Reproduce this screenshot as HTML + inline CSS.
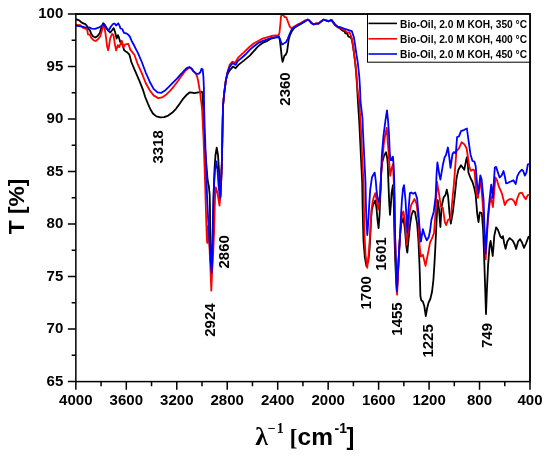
<!DOCTYPE html>
<html><head><meta charset="utf-8"><title>FTIR Bio-Oil</title>
<style>
html,body{margin:0;padding:0;background:#fff;}
body{width:550px;height:458px;overflow:hidden;}
svg{display:block;}
text{font-family:"Liberation Sans", Arial, Helvetica, sans-serif;font-weight:bold;fill:#000;}
</style></head><body>
<svg width="550" height="458" viewBox="0 0 550 458">
<rect x="0" y="0" width="550" height="458" fill="#fff"/>
<defs><clipPath id="pa"><rect x="75.85" y="13.299999999999999" width="454.15" height="368.3"/></clipPath></defs>

<g clip-path="url(#pa)" fill="none" stroke-width="1.8" stroke-linejoin="round" stroke-linecap="round">
<polyline stroke="#000" points="76.2,19.2 76.6,19.4 79.2,20.3 81.0,22.0 82.7,23.2 85.4,24.2 87.1,26.0 88.4,29.0 89.7,29.9 91.5,34.3 93.2,36.5 95.4,37.5 97.6,36.0 99.8,33.0 101.5,27.3 103.3,23.2 105.0,25.1 106.8,28.2 108.5,30.8 110.3,32.5 111.7,30.7 113.7,28.1 115.1,32.0 116.6,38.6 117.9,35.1 118.7,36.8 120.0,41.2 121.4,43.8 122.7,45.1 124.0,49.9 125.3,51.2 127.5,52.6 129.2,54.3 130.0,56.8 131.3,62.0 135.2,71.2 139.2,80.4 142.8,89.3 145.2,97.0 147.9,103.6 150.5,109.5 153.1,113.8 156.4,116.4 160.3,117.3 164.2,117.1 168.2,115.6 172.1,112.8 176.0,108.8 179.3,104.2 182.8,99.2 186.2,95.3 189.8,92.3 192.2,92.6 194.4,93.2 196.9,92.7 199.7,92.1 201.8,91.6 202.5,93.5 202.8,100.0 203.1,110.0 203.8,130.0 205.2,150.0 206.8,170.0 207.6,180.0 208.8,186.0 209.7,195.0 210.0,210.0 210.2,240.0 210.6,262.0 211.2,268.0 211.9,262.0 212.4,240.0 212.9,220.0 213.4,205.0 214.1,180.0 214.6,168.0 215.5,155.0 216.7,147.6 218.0,155.0 219.0,170.6 220.0,187.0 220.6,197.0 221.0,185.0 221.8,165.0 222.3,140.0 222.7,120.0 223.1,105.0 224.2,93.2 225.9,80.1 227.6,74.0 229.5,70.5 230.7,69.3 232.9,66.6 235.6,68.2 238.4,64.9 243.8,60.6 249.8,55.6 254.3,50.6 258.1,46.4 262.5,43.0 266.8,41.2 271.2,38.6 275.6,37.3 279.1,36.8 280.0,41.3 280.9,49.2 281.8,57.9 282.6,61.8 283.5,58.8 284.4,55.7 285.7,54.8 287.0,51.8 287.9,45.7 288.7,39.6 290.0,35.2 291.8,31.2 294.2,28.0 297.7,25.6 301.2,23.7 304.7,21.5 307.7,19.8 309.5,20.8 311.4,23.1 313.6,24.5 315.9,23.7 318.6,23.6 320.9,21.8 323.6,19.8 325.9,20.5 328.6,21.5 331.4,20.2 333.2,22.6 335.0,25.0 337.7,27.3 340.0,28.5 342.5,30.6 344.3,31.2 345.4,33.3 347.3,33.7 348.4,36.6 350.6,37.2 351.6,39.0 352.5,43.0 353.8,51.5 355.1,62.0 356.1,72.5 357.0,85.0 357.9,101.2 359.2,120.9 359.9,135.0 360.9,156.2 362.2,182.5 362.5,200.0 362.8,216.0 363.5,241.0 364.8,257.0 366.4,266.0 368.3,261.0 369.5,250.0 370.3,235.0 371.0,220.0 371.8,210.0 373.0,205.0 375.3,200.5 376.5,208.0 377.5,220.0 378.6,228.1 379.6,214.0 380.5,190.0 381.2,172.0 382.3,162.0 383.9,156.2 386.0,152.2 387.2,158.0 387.8,165.0 388.3,180.0 389.2,202.0 390.0,214.8 391.0,203.0 391.6,193.1 392.9,185.2 393.7,200.0 394.3,230.0 395.2,260.0 396.2,282.0 396.9,292.0 397.7,280.0 398.7,258.0 399.8,238.0 401.2,224.0 403.4,218.0 405.0,230.0 406.3,246.0 407.3,252.7 408.5,240.0 410.0,225.0 411.5,215.0 413.2,210.8 415.0,212.0 417.1,223.3 418.4,240.0 419.4,262.0 420.0,280.0 420.4,296.0 421.2,300.2 422.8,301.5 424.3,306.0 425.8,316.0 427.2,308.0 428.6,302.5 430.3,299.0 432.0,292.0 433.4,280.0 434.5,263.0 435.4,246.0 436.0,233.1 436.7,218.0 437.7,200.1 439.0,209.3 440.4,227.0 441.6,206.6 443.6,197.5 445.5,194.9 446.8,189.6 448.1,196.2 449.5,213.2 450.8,223.7 452.7,213.2 454.7,196.2 456.6,177.9 458.4,169.7 461.0,165.2 464.3,169.7 466.6,158.0 467.2,157.0 468.5,172.8 470.5,178.0 472.5,182.0 474.4,188.5 475.7,195.1 477.2,213.6 478.5,222.1 479.8,212.3 481.8,213.0 483.1,229.3 483.9,250.0 484.9,280.0 486.0,314.0 486.9,290.0 488.1,265.0 489.6,246.0 490.6,241.0 491.6,248.0 492.7,256.0 493.6,245.0 494.3,235.9 496.1,227.3 497.9,229.7 500.4,236.6 501.9,238.1 502.9,236.1 504.3,243.5 505.6,248.9 507.3,241.5 509.7,238.1 512.7,240.6 514.7,244.5 516.1,248.9 518.1,241.5 520.1,239.1 522.0,242.5 524.0,247.9 526.0,243.5 528.4,237.1 530.0,236.0"/>
<polyline stroke="#f00" points="76.2,24.9 76.6,24.9 80.1,25.1 82.7,27.7 85.4,28.6 87.1,29.5 88.0,34.3 89.7,34.7 91.5,38.2 93.7,40.4 95.8,41.0 98.0,39.1 100.2,36.5 102.0,30.3 103.3,26.0 104.6,27.7 105.9,36.5 107.2,46.9 108.1,50.4 108.9,46.9 110.2,38.2 112.2,33.8 113.5,35.1 114.8,43.8 116.1,50.4 117.9,45.1 119.2,47.3 120.5,43.8 121.8,40.8 123.5,47.3 125.3,44.3 128.3,43.8 130.3,49.6 132.7,52.6 134.5,55.0 137.9,64.7 141.8,73.2 145.7,83.0 149.7,90.2 153.6,95.4 158.2,98.1 162.1,97.4 166.0,94.8 170.0,90.9 173.9,86.3 177.8,81.2 180.0,78.0 182.2,75.0 185.3,70.8 188.7,68.1 189.5,67.5 191.5,68.6 193.6,71.4 195.6,73.5 197.0,76.0 198.0,80.1 199.1,86.7 200.2,93.2 200.8,99.0 201.5,104.0 202.1,110.0 203.6,140.0 205.0,180.0 205.6,200.0 206.2,220.0 206.8,238.0 207.2,243.0 207.8,235.0 208.3,226.0 208.8,235.0 209.6,250.0 210.5,270.0 211.3,290.6 212.1,272.0 213.2,252.0 214.1,232.0 214.6,212.0 215.1,196.0 215.9,187.4 217.5,193.0 219.5,205.7 220.5,195.0 221.0,185.0 221.8,165.0 222.3,140.0 222.7,120.0 223.1,105.0 224.2,93.2 225.9,80.1 227.4,72.4 229.6,64.9 232.4,61.7 235.1,62.8 238.4,57.3 243.8,52.4 249.4,47.0 254.0,43.3 258.6,40.8 262.5,38.6 266.8,37.3 271.2,36.0 275.6,35.3 278.6,35.4 279.5,32.5 280.4,23.7 281.0,16.5 281.6,15.0 283.2,15.0 284.6,17.0 286.3,17.4 288.1,22.2 289.8,26.6 291.6,28.5 294.2,26.6 297.7,24.4 301.2,22.7 304.7,20.5 307.7,19.5 309.5,20.6 311.4,22.9 313.6,24.3 315.9,23.5 318.6,23.4 320.9,21.5 323.6,19.5 325.9,20.2 328.6,21.1 331.4,19.8 333.2,22.2 335.0,24.6 337.7,26.8 340.0,27.9 343.5,29.6 345.2,30.6 346.2,32.1 349.5,32.5 350.6,34.8 351.8,38.4 353.1,46.2 354.4,56.7 355.7,65.9 356.7,78.0 357.6,90.0 359.2,101.2 360.5,120.9 361.0,130.0 362.2,156.2 363.5,182.5 364.0,210.0 364.5,235.0 365.6,255.0 367.2,267.8 368.5,257.0 369.6,242.0 370.6,225.0 371.5,210.0 372.6,202.0 373.8,197.0 375.3,193.1 377.0,202.0 378.3,209.7 379.5,200.0 380.5,185.0 381.5,170.0 382.5,158.0 383.9,143.1 385.0,136.0 386.8,127.8 387.6,140.0 388.4,150.0 388.9,157.5 390.2,175.8 391.5,168.8 392.9,164.5 393.5,175.0 394.5,200.0 395.0,235.0 395.9,263.0 397.1,294.7 397.9,277.0 398.8,258.0 399.9,238.0 401.0,222.0 402.2,214.0 403.4,211.5 405.0,222.0 406.8,245.0 408.5,225.0 410.0,210.0 411.2,204.9 414.5,199.0 416.5,203.6 418.4,219.3 419.6,246.2 420.9,256.7 422.9,254.8 425.5,265.9 428.1,252.8 430.1,242.3 432.0,238.4 434.0,233.1 435.0,220.0 435.7,209.3 437.0,181.8 439.0,193.6 440.9,206.6 442.9,208.0 444.9,222.4 446.2,225.0 448.1,219.7 450.8,218.4 452.1,202.7 454.0,183.1 456.4,151.4 459.0,148.1 461.6,142.3 464.3,144.2 466.6,148.5 467.9,157.0 469.2,166.2 470.2,169.1 471.1,170.8 473.1,169.5 474.4,170.2 476.4,192.5 477.9,197.9 480.3,179.3 482.0,195.0 483.5,215.0 484.8,240.0 485.7,259.4 486.7,240.0 488.0,220.0 489.5,205.0 490.8,196.0 492.9,207.0 494.0,195.0 495.4,177.4 497.0,180.2 498.9,186.7 501.6,192.6 503.5,199.8 504.8,205.1 506.8,201.1 509.4,199.2 512.0,199.2 514.0,201.1 515.7,205.1 517.3,198.5 519.3,193.3 521.9,192.6 523.9,196.6 525.8,199.2 527.8,195.2 530.0,194.6"/>
<polyline stroke="#00f" points="76.2,25.8 76.6,25.8 81.0,26.4 85.4,27.3 88.0,27.7 89.7,27.5 91.5,28.6 95.0,28.8 98.5,27.7 101.1,26.4 102.8,24.7 104.6,25.5 106.3,28.2 108.5,30.8 110.3,27.5 111.7,25.5 113.5,23.6 114.8,23.7 116.1,25.5 118.3,23.3 119.6,25.9 120.5,28.5 122.2,29.0 124.0,32.9 126.2,33.3 128.3,34.7 129.7,36.4 131.8,41.2 133.9,45.0 135.3,47.8 137.9,52.9 141.8,62.0 145.7,72.5 149.7,81.7 153.6,88.9 157.5,92.4 161.4,92.8 165.4,90.2 169.3,86.3 173.2,82.3 177.2,78.4 180.0,75.2 182.2,73.0 184.4,70.3 186.6,68.1 189.3,67.0 191.5,68.6 193.6,71.4 196.4,73.6 198.6,73.8 200.2,72.5 201.6,68.6 202.7,69.7 203.4,76.8 203.9,88.0 204.0,100.0 204.2,110.0 204.6,125.0 205.2,140.0 205.8,160.0 206.5,180.0 207.2,200.0 208.2,220.0 209.4,240.0 210.6,260.0 211.7,273.0 212.4,260.0 212.7,240.0 213.0,220.0 213.4,200.0 214.0,185.0 215.0,170.0 216.4,161.4 217.5,170.0 218.5,185.0 220.0,198.0 221.0,185.0 221.8,165.0 222.3,140.0 222.7,120.0 223.1,105.0 224.2,93.2 225.9,80.1 227.5,72.6 229.6,67.1 232.4,63.3 234.0,63.8 235.6,64.9 237.8,61.1 241.7,57.8 246.0,54.0 250.0,49.6 254.3,46.0 258.6,42.8 263.0,40.9 267.5,39.3 271.2,37.9 275.6,37.3 279.0,37.0 280.2,39.7 282.0,44.5 283.7,43.6 285.9,42.3 287.7,38.8 289.8,33.6 291.6,29.7 294.2,27.5 297.7,25.3 301.2,23.5 304.7,21.4 307.7,19.6 309.5,20.7 311.4,23.0 313.6,24.4 315.9,23.6 318.6,23.5 320.9,21.6 323.6,19.6 325.9,20.3 328.6,21.2 331.4,19.8 333.2,22.1 335.0,24.4 337.7,26.6 340.0,27.2 343.9,28.5 347.9,29.8 351.8,31.1 353.8,37.0 355.1,44.9 356.4,54.1 357.7,62.0 358.6,70.0 359.3,77.0 360.0,88.0 360.5,101.2 362.5,118.3 362.9,130.0 364.2,156.2 365.5,182.5 365.8,200.0 366.3,218.0 367.3,235.0 368.4,220.0 369.2,205.0 370.2,190.0 371.3,182.0 372.0,177.2 373.2,175.0 374.7,172.6 375.7,180.0 376.5,190.0 377.5,198.0 378.8,201.8 379.8,197.0 380.6,190.0 381.1,175.0 381.8,155.6 383.5,135.5 385.5,120.0 387.0,110.5 388.0,120.0 389.0,134.3 389.8,153.1 390.7,160.1 391.5,160.1 392.9,156.6 393.7,166.2 394.2,180.0 394.6,200.0 395.1,235.0 395.9,261.0 396.8,291.0 397.7,275.0 398.7,258.0 399.8,240.0 401.0,215.0 402.0,199.0 403.0,188.5 404.0,185.2 405.5,200.0 407.3,232.5 408.5,210.0 409.9,193.1 411.2,192.5 413.2,193.8 415.2,192.5 417.1,198.4 418.4,212.8 419.6,228.0 420.9,241.6 422.9,229.2 424.8,235.7 426.8,240.3 428.8,237.0 430.1,230.5 431.4,220.0 433.7,211.9 435.7,196.2 436.5,175.0 437.4,162.5 439.4,175.0 440.4,179.6 442.7,165.8 444.6,157.3 445.9,155.3 447.9,147.5 449.2,156.6 450.5,167.8 452.5,154.0 453.8,152.1 455.8,153.4 457.1,137.0 459.0,136.4 461.0,131.1 464.3,129.8 466.9,128.5 468.8,142.3 470.5,154.4 472.5,161.0 474.4,161.6 475.7,166.2 477.0,183.3 478.4,193.5 480.3,175.4 481.6,179.3 482.6,190.0 483.6,200.0 484.5,230.0 485.5,253.5 486.4,240.0 488.0,215.0 489.5,200.0 491.2,184.6 492.8,198.0 494.8,167.5 496.1,166.9 498.0,172.8 499.6,177.5 501.6,175.6 503.5,171.0 504.8,176.2 506.1,183.4 508.1,182.8 510.7,181.5 513.4,180.2 515.7,184.1 517.3,176.2 519.3,172.3 521.9,169.7 523.2,171.0 524.9,175.6 526.5,172.3 527.8,164.4 530.0,163.8"/>
</g>
<path d="M75.85,381.6V389.70M101.08,381.6V386.20M126.31,381.6V389.70M151.54,381.6V386.20M176.77,381.6V389.70M202.00,381.6V386.20M227.23,381.6V389.70M252.46,381.6V386.20M277.69,381.6V389.70M302.92,381.6V386.20M328.16,381.6V389.70M353.39,381.6V386.20M378.62,381.6V389.70M403.85,381.6V386.20M429.08,381.6V389.70M454.31,381.6V386.20M479.54,381.6V389.70M504.77,381.6V386.20M530.00,381.6V389.70M75.85,381.60H67.85M75.85,355.35H71.65M75.85,329.10H67.85M75.85,302.85H71.65M75.85,276.60H67.85M75.85,250.35H71.65M75.85,224.10H67.85M75.85,197.85H71.65M75.85,171.60H67.85M75.85,145.35H71.65M75.85,119.10H67.85M75.85,92.85H71.65M75.85,66.60H67.85M75.85,40.35H71.65M75.85,14.10H67.85" stroke="#000" stroke-width="1.5" fill="none"/>
<rect x="75.85" y="14.1" width="454.15" height="367.50" fill="none" stroke="#000" stroke-width="1.5"/>
<text x="63.3" y="385.8" font-size="15" text-anchor="end">65</text>
<text x="63.3" y="333.3" font-size="15" text-anchor="end">70</text>
<text x="63.3" y="280.8" font-size="15" text-anchor="end">75</text>
<text x="63.3" y="228.3" font-size="15" text-anchor="end">80</text>
<text x="63.3" y="175.8" font-size="15" text-anchor="end">85</text>
<text x="63.3" y="123.3" font-size="15" text-anchor="end">90</text>
<text x="63.3" y="70.8" font-size="15" text-anchor="end">95</text>
<text x="63.3" y="18.3" font-size="15" text-anchor="end">100</text>
<text x="75.8" y="405.4" font-size="15" text-anchor="middle">4000</text>
<text x="126.3" y="405.4" font-size="15" text-anchor="middle">3600</text>
<text x="176.8" y="405.4" font-size="15" text-anchor="middle">3200</text>
<text x="227.2" y="405.4" font-size="15" text-anchor="middle">2800</text>
<text x="277.7" y="405.4" font-size="15" text-anchor="middle">2400</text>
<text x="328.2" y="405.4" font-size="15" text-anchor="middle">2000</text>
<text x="378.6" y="405.4" font-size="15" text-anchor="middle">1600</text>
<text x="429.1" y="405.4" font-size="15" text-anchor="middle">1200</text>
<text x="479.5" y="405.4" font-size="15" text-anchor="middle">800</text>
<text x="530.0" y="405.4" font-size="15" text-anchor="middle">400</text>
<text transform="translate(163.4,146.8) rotate(-90)" font-size="15" text-anchor="middle">3318</text>
<text transform="translate(214.9,320.1) rotate(-90)" font-size="15" text-anchor="middle">2924</text>
<text transform="translate(228.9,251.8) rotate(-90)" font-size="15" text-anchor="middle">2860</text>
<text transform="translate(289.8,89.0) rotate(-90)" font-size="15" text-anchor="middle">2360</text>
<text transform="translate(370.6,292.8) rotate(-90)" font-size="15" text-anchor="middle">1700</text>
<text transform="translate(385.5,254.0) rotate(-90)" font-size="15" text-anchor="middle">1601</text>
<text transform="translate(402.4,319.0) rotate(-90)" font-size="15" text-anchor="middle">1455</text>
<text transform="translate(432.5,340.9) rotate(-90)" font-size="15" text-anchor="middle">1225</text>
<text transform="translate(492.3,335.5) rotate(-90)" font-size="15" text-anchor="middle">749</text>
<rect x="367.5" y="14.1" width="162.5" height="48.1" fill="#fff" stroke="#000" stroke-width="1"/>
<line x1="368.5" y1="23.4" x2="397" y2="23.4" stroke="#000" stroke-width="1.6"/>
<text x="400.1" y="27.5" font-size="10.2">Bio-Oil, 2.0 M KOH, 350 °C</text>
<line x1="368.5" y1="38.8" x2="397" y2="38.8" stroke="#f00" stroke-width="1.6"/>
<text x="400.1" y="42.9" font-size="10.2">Bio-Oil, 2.0 M KOH, 400 °C</text>
<line x1="368.5" y1="54.0" x2="397" y2="54.0" stroke="#00f" stroke-width="1.6"/>
<text x="400.1" y="57.8" font-size="10.2">Bio-Oil, 2.0 M KOH, 450 °C</text>
<path d="M75.1,14.1H530.75M530.0,14.1V381.6" stroke="#000" stroke-width="1.5" fill="none"/>
<text transform="translate(23.8,206.4) rotate(-90)" font-size="22.8" text-anchor="middle">T [%]</text>
<text x="255.3" y="444.9" font-size="26" style="font-family:'Liberation Serif', 'Times New Roman', serif">λ</text>
<text x="267.7" y="433" font-size="14" style="font-family:'Liberation Serif', 'Times New Roman', serif">−<tspan dx="1">1</tspan></text>
<text x="289.5" y="444.7" font-size="24" style="font-family:'Liberation Serif', 'Times New Roman', serif">[</text>
<text x="297.6" y="444.6" font-size="24.5">cm</text>
<text x="334.4" y="432.6" font-size="14">-<tspan dx="0.3">1</tspan></text>
<text x="346.6" y="444.8" font-size="23.5">]</text>
</svg></body></html>
